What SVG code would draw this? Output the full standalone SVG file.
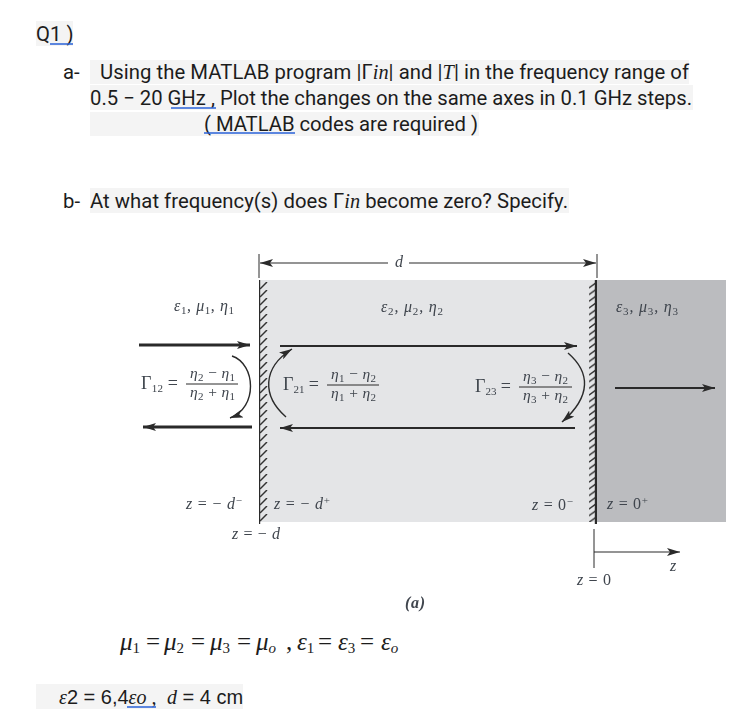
<svg xmlns="http://www.w3.org/2000/svg" width="739" height="724" viewBox="0 0 739 724">
<style>
.band{fill:#f4f4f4}
.t{font-family:Roboto,"Liberation Sans",sans-serif;font-size:20.3px;fill:#1c1c1c}
.m{font-family:"Liberation Serif",serif;font-style:italic;fill:#1c1c1c}
.u{stroke:#2a62d8;stroke-width:1.5;fill:none}
.l{font-family:"Liberation Serif",serif;font-size:16px;font-style:italic;fill:#3f454d}
.f{font-size:15.5px}
.g{font-size:18px}
.r{font-style:normal}
.s{font-size:11px}
.e{font-size:25px}
.b{font-size:15px}
.c{stroke:#2a2a2a;fill:none}
.soft{filter:url(#soft)}
</style>
<defs>
<filter id="soft" x="0" y="0" width="100%" height="100%"><feGaussianBlur stdDeviation="0.35"/></filter>
<pattern id="hatchL" patternUnits="userSpaceOnUse" x="260" y="282" width="8" height="8"><path d="M0 7L7 0" stroke="#333" stroke-width="1.5"/></pattern>
<pattern id="hatchR" patternUnits="userSpaceOnUse" x="589" y="282" width="8" height="6.7"><path d="M0 6L8 0" stroke="#333" stroke-width="1.4"/></pattern>
<marker id="a" markerUnits="userSpaceOnUse" markerWidth="14" markerHeight="8" refX="13" refY="4" orient="auto-start-reverse"><path d="M0 0L13 4L0 8L3 4Z" fill="#2a2a2a"/></marker>
</defs>

<g id="question">
<rect class="band" x="36" y="21" width="37" height="25"/>
<rect class="band" x="90" y="60" width="599" height="24"/>
<rect class="band" x="90" y="85" width="603" height="25"/>
<rect class="band" x="90" y="112" width="389" height="24"/>
<rect class="band" x="90" y="188" width="479" height="25"/>
<text class="t" x="36" y="41">Q1 )</text>
<text class="t" x="63" y="79">a-</text>
<text class="t" x="100" y="79" textLength="589">Using the MATLAB program |Γ<tspan class="m">in</tspan>| and |<tspan class="m">T</tspan>| in the frequency range of</text>
<text class="t" x="90" y="105" textLength="602">0.5 − 20 GHz , Plot the changes on the same axes in 0.1 GHz steps.</text>
<text class="t" x="204" y="131" textLength="274">( MATLAB codes are required )</text>
<text class="t" x="63" y="208">b-</text>
<text class="t" x="90" y="208" textLength="478">At what frequency(s) does Γ<tspan class="m">in</tspan> become zero? Specify.</text>
<path class="u" d="M50 44H73M171 108H216M204 133H295"/>
</g>

<g id="medium2"><rect x="260" y="280" width="337" height="242" fill="#e4e5e7"/></g>
<g id="medium3"><rect x="597" y="280" width="129" height="242" fill="#bbbcbf"/></g>
<g id="wall-left" class="soft"><rect x="260" y="282" width="8" height="240" fill="url(#hatchL)"/><path d="M259 280V524" stroke="#2a2a2a" stroke-width="2.4"/></g>
<g id="wall-right" class="soft"><rect x="589" y="282" width="8" height="240" fill="url(#hatchR)"/><path d="M596 280V524" stroke="#2a2a2a" stroke-width="2.4"/></g>

<g id="connectors" class="soft">
<path class="c" stroke-width="1" d="M259 254V278M597 254V278M594 529V568"/>
<path class="c" stroke-width="1.2" marker-start="url(#a)" d="M260 263H388"/>
<path class="c" stroke-width="1.2" marker-end="url(#a)" d="M409 263H596"/>
<path class="c" stroke-width="3" marker-end="url(#a)" d="M139 345H250"/>
<path class="c" stroke-width="3" marker-start="url(#a)" d="M143 427H252"/>
<path class="c" stroke-width="2" marker-end="url(#a)" d="M280 346H577"/>
<path class="c" stroke-width="2" marker-start="url(#a)" d="M280 428H575"/>
<path class="c" stroke-width="1.4" marker-end="url(#a)" d="M232 356C256 364 258 408 230 418"/>
<path class="c" stroke-width="1.4" marker-end="url(#a)" d="M286 417C262 396 262 368 292 349"/>
<path class="c" stroke-width="1.4" marker-end="url(#a)" d="M568 353C590 372 592 396 562 422"/>
<path class="c" stroke-width="2" marker-end="url(#a)" d="M615 388H715"/>
<path class="c" stroke-width="1.2" marker-end="url(#a)" d="M594 552H680"/>
<path class="c" stroke="#4a5058" stroke-width="1" d="M186 384H238M327 385H379M519 387H572"/>
</g>

<g id="labels" class="soft">
<text class="l" x="395" y="267">d</text>
<text class="l" x="174" y="311" textLength="60">ε<tspan class="s r" dy="3">1</tspan><tspan dy="-3" class="r">, </tspan>μ<tspan class="s r" dy="3">1</tspan><tspan dy="-3" class="r">, </tspan>η<tspan class="s r" dy="3">1</tspan></text>
<text class="l" x="381" y="312" textLength="62">ε<tspan class="s r" dy="3">2</tspan><tspan dy="-3" class="r">, </tspan>μ<tspan class="s r" dy="3">2</tspan><tspan dy="-3" class="r">, </tspan>η<tspan class="s r" dy="3">2</tspan></text>
<text class="l" x="616" y="312" textLength="62">ε<tspan class="s r" dy="3">3</tspan><tspan dy="-3" class="r">, </tspan>μ<tspan class="s r" dy="3">3</tspan><tspan dy="-3" class="r">, </tspan>η<tspan class="s r" dy="3">3</tspan></text>

<text class="l g r" x="141" y="389" textLength="37">Γ<tspan class="s" dy="3">12</tspan><tspan dy="-3"> =</tspan></text>
<text class="l f" x="190" y="378" textLength="45">η<tspan class="s r" dy="3">2</tspan><tspan class="r" dy="-3"> − </tspan>η<tspan class="s r" dy="3">1</tspan></text>
<text class="l f" x="190" y="397" textLength="45">η<tspan class="s r" dy="3">2</tspan><tspan class="r" dy="-3"> + </tspan>η<tspan class="s r" dy="3">1</tspan></text>

<text class="l g r" x="283" y="390" textLength="36">Γ<tspan class="s" dy="3">21</tspan><tspan dy="-3"> =</tspan></text>
<text class="l f" x="331" y="379" textLength="45">η<tspan class="s r" dy="3">1</tspan><tspan class="r" dy="-3"> − </tspan>η<tspan class="s r" dy="3">2</tspan></text>
<text class="l f" x="331" y="398" textLength="45">η<tspan class="s r" dy="3">1</tspan><tspan class="r" dy="-3"> + </tspan>η<tspan class="s r" dy="3">2</tspan></text>

<text class="l g r" x="475" y="392" textLength="36">Γ<tspan class="s" dy="3">23</tspan><tspan dy="-3"> =</tspan></text>
<text class="l f" x="523" y="381" textLength="45">η<tspan class="s r" dy="3">3</tspan><tspan class="r" dy="-3"> − </tspan>η<tspan class="s r" dy="3">2</tspan></text>
<text class="l f" x="523" y="400" textLength="45">η<tspan class="s r" dy="3">3</tspan><tspan class="r" dy="-3"> + </tspan>η<tspan class="s r" dy="3">2</tspan></text>

<text class="l" x="186" y="509" textLength="56">z<tspan class="r"> = − </tspan>d<tspan class="s r" dy="-5">−</tspan></text>
<text class="l" x="274" y="509" textLength="56">z<tspan class="r"> = − </tspan>d<tspan class="s r" dy="-5">+</tspan></text>
<text class="l" x="232" y="539" textLength="48">z<tspan class="r"> = − </tspan>d</text>
<text class="l" x="532" y="510" textLength="41">z<tspan class="r"> = 0</tspan><tspan class="s r" dy="-5">−</tspan></text>
<text class="l" x="607" y="509" textLength="41">z<tspan class="r"> = 0</tspan><tspan class="s r" dy="-5">+</tspan></text>
<text class="l" x="577" y="585" textLength="34">z<tspan class="r"> = 0</tspan></text>
<text class="l" x="670" y="571">z</text>
<text class="l" x="405" y="608" textLength="20" font-size="14" font-weight="bold">(a)</text>
</g>

<g id="equations">
<text class="m e" y="650"><tspan x="120">μ</tspan><tspan class="b r" dy="3">1</tspan><tspan class="r" x="146" dy="-3">=</tspan><tspan x="164">μ</tspan><tspan class="b r" dy="3">2</tspan><tspan class="r" x="191" dy="-3">=</tspan><tspan x="210">μ</tspan><tspan class="b r" dy="3">3</tspan><tspan class="r" x="237" dy="-3">=</tspan><tspan x="256">μ</tspan><tspan class="b" dy="3">o</tspan><tspan class="r" x="286" dy="-3">,</tspan><tspan x="297">ε</tspan><tspan class="b r" dy="3">1</tspan><tspan class="r" x="318" dy="-3">=</tspan><tspan x="338">ε</tspan><tspan class="b r" dy="3">3</tspan><tspan class="r" x="360" dy="-3">=</tspan><tspan x="381">ε</tspan><tspan class="b" dy="3">o</tspan></text>
<rect class="band" x="36" y="684" width="207" height="25"/>
<text x="59" y="704" font-family="Liberation Sans,sans-serif" font-size="20" fill="#1c1c1c"><tspan class="m">ε</tspan>2 = 6,4<tspan class="m">εo ,</tspan><tspan class="m" x="167">d</tspan> = 4 cm</text>
<path class="u" d="M127 707H156"/>
</g>
</svg>
